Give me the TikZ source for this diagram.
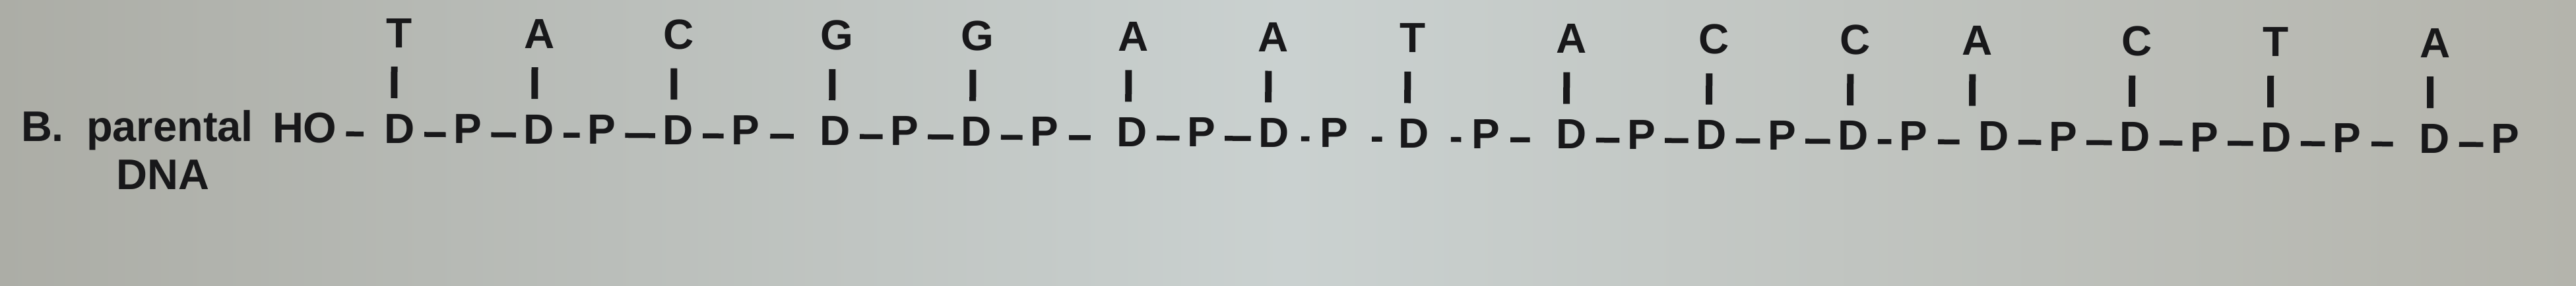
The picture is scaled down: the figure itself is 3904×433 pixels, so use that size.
\documentclass[tikz,border=0pt]{standalone}
\usepackage{fontspec}
\setmainfont{Liberation Sans}
\usetikzlibrary{positioning}
\definecolor{ink}{RGB}{24,24,26}
\definecolor{paperL}{RGB}{172,173,166}
\definecolor{paperM}{RGB}{202,209,208}
\definecolor{paperR}{RGB}{180,180,172}
\tikzset{
  lbl/.style={inner sep=0pt, anchor=base west, text=ink, font=\bfseries\fontsize{13}{15}\selectfont},
  unit/.style={inner sep=0pt, anchor=base, text=ink, font=\bfseries\fontsize{12.8}{15}\selectfont},
  bond/.style={draw=ink, line width=1.5pt, shorten <=2.6pt, shorten >=2.2pt},
  gapbond/.style={bond, shorten <=3pt, shorten >=7.8pt},
  hyphen/.style={bond, shorten <=3.4pt, shorten >=3pt},
  lhyphen/.style={bond, shorten <=7pt, shorten >=4.8pt},
  rhyphen/.style={bond, shorten <=6.4pt, shorten >=3pt},
  rung/.style={draw=ink, line width=2pt, shorten <=5.6pt, shorten >=4.6pt}
}

\begin{document}
\begin{tikzpicture}[x=0.2pt, y=0.2pt]

  \newcommand\Yp{216}; % backbone
  \newcommand\Yb{361}; % bases

  \useasboundingbox (0,0) rectangle (3904,433);
  \shade[left color=paperL, right color=paperR, middle color=paperM] (0,0) rectangle (3904,433);

  \begin{scope}[rotate around={-0.28:(600,216)}]

  \node[lbl] (sec) at (31,\Yp) {B.};
  \node[lbl] (parental) at (130,\Yp) {parental};
  \node[lbl] (dna) at (176,143) {DNA};
  \node[lbl] (ho) at (412,\Yp) {HO};

  % base / sugar D / phosphate P
  \foreach \i/\b/\xb/\xd/\xp/\s in {1/T/604/606/709/bond, 2/A/817/817/912/bond,
      3/C/1028/1028/1130/bond, 4/G/1268/1266/1371/bond, 5/G/1481/1480/1583/bond,
      6/A/1717/1716/1821/bond, 7/A/1929/1931/2022/hyphen, 8/T/2140/2143/2252/rhyphen,
      9/A/2381/2382/2488/bond, 10/C/2597/2594/2701/bond, 11/C/2811/2809/2900/bond,
      12/A/2996/3022/3127/bond, 13/C/3238/3236/3341/bond, 14/T/3448/3450/3557/bond,
      15/A/3690/3690/3797/bond}{
    \node[unit] (d\i) at (\xd,\Yp) {D};
    \node[unit] (p\i) at (\xp,\Yp) {P};
    \node[unit] (b\i) at (\xb,\Yb) {\b};
    \draw[rung] ([xshift=-1.4pt]b\i.south) -- ([xshift=-1.4pt]b\i.south |- d\i.north);
    \draw[\s] (d\i.mid east) -- (p\i.mid west); % D-P
  }

  \draw[bond, shorten >=6.2pt] (ho.mid east) -- (d1.mid west); % HO-D

  % P-D
  \foreach \i/\j/\s in {1/2/bond, 2/3/bond, 3/4/gapbond, 4/5/bond, 5/6/gapbond,
      6/7/bond, 7/8/lhyphen, 8/9/gapbond, 9/10/bond, 10/11/bond,
      12/13/bond, 13/14/bond, 14/15/gapbond}
    \draw[\s] (p\i.mid east) -- (d\j.mid west);
  \draw[gapbond, shorten >=5.6pt] (p11.mid east) -- (d12.mid west);

  \end{scope}

\end{tikzpicture}
\end{document}
